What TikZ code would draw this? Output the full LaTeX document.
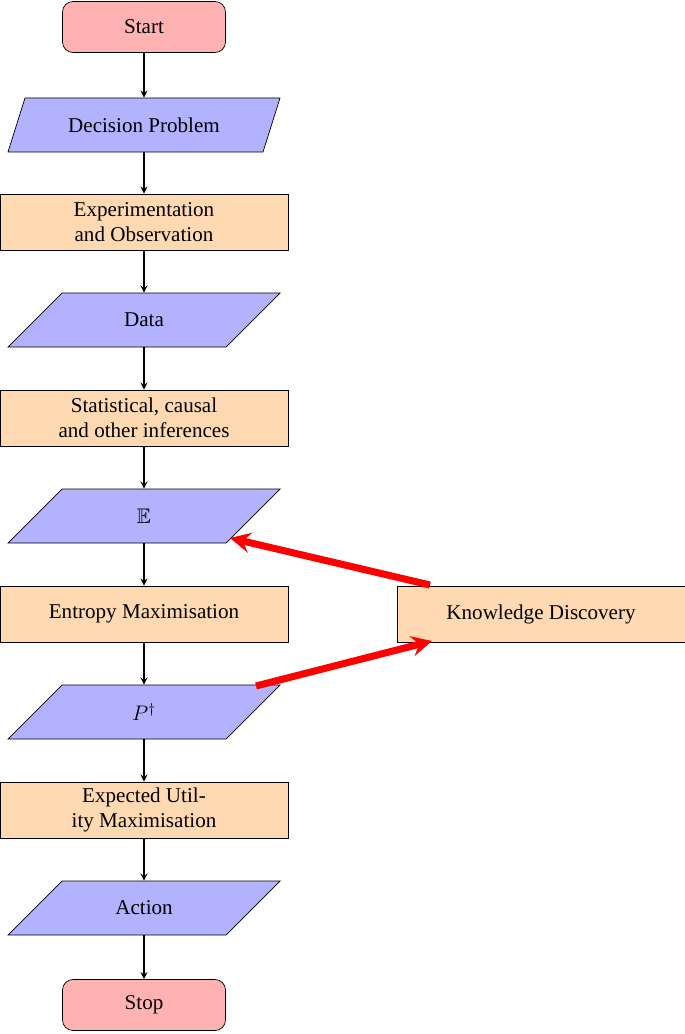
\documentclass[tikz,border=0pt]{standalone}
\usepackage{amssymb}
\usepackage{fontspec}
\setmainfont{Liberation Serif}
\begin{document}
\begin{tikzpicture}[x=0.02cm,y=-0.02cm,
  term/.style={draw,fill=red!30,rounded corners=6pt,minimum width=3.26cm,minimum height=1.02cm,font=\large},
  proc/.style={draw,fill=orange!30,minimum width=5.76cm,minimum height=1.12cm,align=center,font=\large},
  io/.style={font=\large,minimum width=4cm,minimum height=1.08cm},
  arr/.style={->,>=stealth,thick},
  red/.style={->,>=stealth,line width=4pt,draw=red}]
\useasboundingbox (0,0) rectangle (685,1034);
\newcommand{\para}[4]{% name, y, slant, text
  \fill[blue!30,draw=black] (8,#2+27) -- (280-#3,#2+27) -- (280,#2-27) -- (8+#3,#2-27) -- cycle;
  \node[io] (#1) at (144,#2) {#4};}
\node[term] (start) at (144,27) {Start};
\para{dp}{125}{17}{Decision Problem}
\node[proc] (exp) at (144,222) {Experimentation\\and Observation};
\para{data}{320}{54}{Data}
\node[proc] (stat) at (144,418) {Statistical, causal\\and other inferences};
\para{E}{516}{54}{$\mathbb{E}$}
\node[proc] (ent) at (144,614) {Entropy Maximisation};
\para{P}{712}{54}{$P^{\dagger}$}
\node[proc] (eu) at (144,810) {Expected Util-\\ity Maximisation};
\para{act}{908}{54}{Action}
\node[term] (stop) at (144,1005) {Stop};
\node[proc] (kd) at (541,614) {Knowledge Discovery};
\draw[arr] (start) -- (dp);
\draw[arr] (dp) -- (exp);
\draw[arr] (exp) -- (data);
\draw[arr] (data) -- (stat);
\draw[arr] (stat) -- (E);
\draw[arr] (E) -- (ent);
\draw[arr] (ent) -- (P);
\draw[arr] (P) -- (eu);
\draw[arr] (eu) -- (act);
\draw[arr] (act) -- (stop);
\coordinate (k1) at (430,585);
\coordinate (e1) at (230,538);
\coordinate (p1) at (256,686);
\coordinate (k2) at (432,641);
\draw[red] (k1) -- (e1);
\draw[red] (p1) -- (k2);
\end{tikzpicture}
\end{document}
